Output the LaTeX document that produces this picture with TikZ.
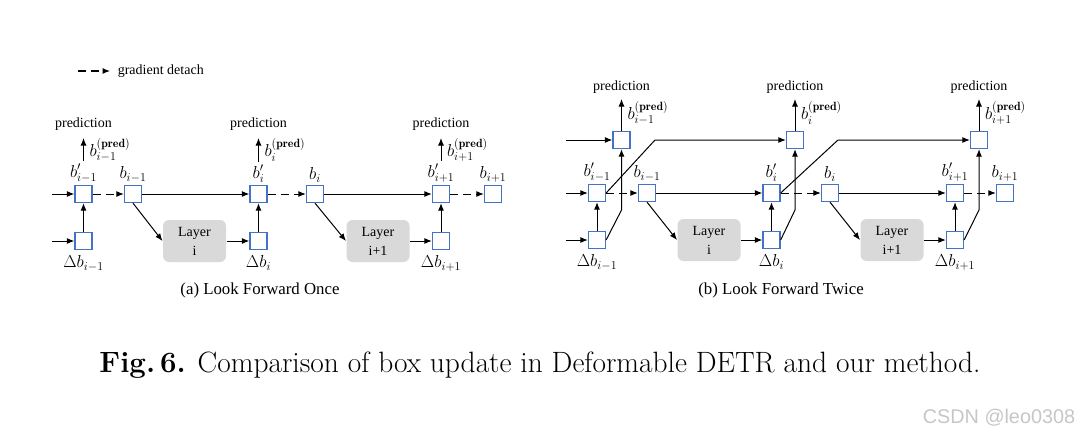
\documentclass[tikz,border=0pt]{standalone}
\usepackage{amsmath,amssymb}
\usepackage{fontspec}
\usetikzlibrary{arrows.meta}
\newfontfamily\tms{Liberation Serif}
\newfontfamily\wmk{Liberation Sans}
\definecolor{boxblue}{RGB}{68,114,196}
\definecolor{layergray}{RGB}{217,217,217}

\begin{document}
\begin{tikzpicture}[x=1pt, y=-1pt, every node/.style={font=\tms\fontsize{14}{19}\selectfont}, >={Latex[length=7.5pt,width=6pt]}, line width=1pt,
	box/.style={draw=boxblue, line width=1.3pt, fill=white, minimum size=17pt, inner sep=0pt},
	layer/.style={fill=layergray, rounded corners=6pt, minimum width=63pt, minimum height=42pt, align=center, inner sep=0pt},
	mth/.style={font=\fontsize{17}{20}\selectfont, inner sep=3pt},
	grad/.style={->, dash pattern=on 8pt off 5pt}]
	\useasboundingbox (0,0) rectangle (1081,436);
	% legend
	\coordinate (lgS) at (78,71);
	\coordinate (lgE) at (110,71);
	\node[anchor=west] (lgT) at (114,71) {gradient detach};
	\draw[grad] (lgS) -- (lgE);
	% (a) look forward once
	\coordinate (lin1) at (52,194);
	\coordinate (lin2) at (52,241);
	\node[box, label={[mth, name=lnA, label distance=-1pt]above:$b'_{i-1}$}] (lbpA) at (83.5,194) {};
	\node[box, label={[mth, label distance=-1pt]above:$b_{i-1}$}] (lbA) at (133,194) {};
	\node[box, label={[mth, name=lnB, label distance=-1pt]above:$b'_{i}$}] (lbpB) at (258.5,194) {};
	\node[box, label={[mth, label distance=-1pt]above:$b_{i}$}] (lbB) at (315,194) {};
	\node[box, label={[mth, name=lnC, label distance=-1pt]above:$b'_{i+1}$}] (lbpC) at (441,194) {};
	\node[box, label={[mth, label distance=-1pt]above:$b_{i+1}$}] (lbC) at (493,194) {};
	\node[box, label={[mth, label distance=2pt]below:$\Delta b_{i-1}$}] (ldA) at (83.5,241) {};
	\node[box, label={[mth, label distance=2pt]below:$\Delta b_{i}$}] (ldB) at (258.5,241) {};
	\node[box, label={[mth, label distance=2pt]below:$\Delta b_{i+1}$}] (ldC) at (441,241) {};
	\node[layer] (llayA) at (194.5,241) {Layer\\i};
	\node[layer] (llayB) at (378,241) {Layer\\i+1};
	\node (lprA) at (83.5,124) {prediction};
	\node (lprB) at (258.5,124) {prediction};
	\node (lprC) at (441,124) {prediction};
	\coordinate (lupA) at (83.5,138);
	\coordinate (lupB) at (258.5,138);
	\coordinate (lupC) at (441,138);
	\node[mth, anchor=west] at (86,150) {$b^{(\mathbf{pred})}_{i-1}$};
	\node[mth, anchor=west] at (261,150) {$b^{(\mathbf{pred})}_{i}$};
	\node[mth, anchor=west] at (443.5,150) {$b^{(\mathbf{pred})}_{i+1}$};
	\draw[->] (lin1) -- (lbpA);
	\draw[->] (lin2) -- (ldA);
	\draw[->] (ldA) -- (lbpA);
	\draw[->] (ldB) -- (lbpB);
	\draw[->] (ldC) -- (lbpC);
	\draw[->] (lnA) -- (lupA);
	\draw[->] (lnB) -- (lupB);
	\draw[->] (lnC) -- (lupC);
	\draw[grad] (lbpA) -- (lbA);
	\draw[grad] (lbpB) -- (lbB);
	\draw[grad] (lbpC) -- (lbC);
	\draw[->] (lbA) -- (lbpB);
	\draw[->] (lbB) -- (lbpC);
	\draw[->] (lbA.south) -- (llayA.west);
	\draw[->] (lbB.south) -- (llayB.west);
	\draw[->] (llayA) -- (ldB);
	\draw[->] (llayB) -- (ldC);
	\node[font=\tms\fontsize{16.8}{19}\selectfont] (capA) at (260,290) {(a) Look Forward Once};
	% (b) look forward twice
	\coordinate (rin0) at (566,140);
	\coordinate (rin1) at (566,193);
	\coordinate (rin2) at (566,240);
	\node[box] (rtA) at (621.5,140) {};
	\node[box] (rtB) at (795,140) {};
	\node[box] (rtC) at (979,140) {};
	\node[box, label={[mth, label distance=-1pt]above:$b'_{i-1}$}] (rbpA) at (597,193) {};
	\node[box, label={[mth, label distance=-1pt]above:$b_{i-1}$}] (rbA) at (647,193) {};
	\node[box, label={[mth, label distance=-1pt]above:$b'_{i}$}] (rbpB) at (771.5,193) {};
	\node[box, label={[mth, label distance=-1pt]above:$b_{i}$}] (rbB) at (830,193) {};
	\node[box, label={[mth, label distance=-1pt]above:$b'_{i+1}$}] (rbpC) at (955,193) {};
	\node[box, label={[mth, label distance=-1pt]above:$b_{i+1}$}] (rbC) at (1005,193) {};
	\node[box, label={[mth, label distance=2pt]below:$\Delta b_{i-1}$}] (rdA) at (597,240) {};
	\node[box, label={[mth, label distance=2pt]below:$\Delta b_{i}$}] (rdB) at (771.5,240) {};
	\node[box, label={[mth, label distance=2pt]below:$\Delta b_{i+1}$}] (rdC) at (955,240) {};
	\node[layer] (rlayA) at (709,240) {Layer\\i};
	\node[layer] (rlayB) at (892,240) {Layer\\i+1};
	\node (rprA) at (621.5,87) {prediction};
	\node (rprB) at (795,87) {prediction};
	\node (rprC) at (979,87) {prediction};
	\coordinate (rupA) at (621.5,99);
	\coordinate (rupB) at (795,99);
	\coordinate (rupC) at (979,99);
	\node[mth, anchor=west] at (624,113) {$b^{(\mathbf{pred})}_{i-1}$};
	\node[mth, anchor=west] at (797.5,113) {$b^{(\mathbf{pred})}_{i}$};
	\node[mth, anchor=west] at (981.5,113) {$b^{(\mathbf{pred})}_{i+1}$};
	\coordinate (rkA) at (621.5,210);
	\coordinate (rkB) at (795,210);
	\coordinate (rkC) at (979,210);
	\coordinate (rjA) at (655,140);
	\coordinate (rjB) at (838,140);
	\draw[->] (rin0) -- (rtA);
	\draw[->] (rin1) -- (rbpA);
	\draw[->] (rin2) -- (rdA);
	\draw[->] (rdA) -- (rbpA);
	\draw[->] (rdB) -- (rbpB);
	\draw[->] (rdC) -- (rbpC);
	\draw[->] (rdA.east) -- (rkA) -- (rtA.south);
	\draw[->] (rdB.east) -- (rkB) -- (rtB.south);
	\draw[->] (rdC.east) -- (rkC) -- (rtC.south);
	\draw[->] (rbpA.east) -- (rjA) -- (rtB.west);
	\draw[->] (rbpB.east) -- (rjB) -- (rtC.west);
	\draw[->] (rtA) -- (rupA);
	\draw[->] (rtB) -- (rupB);
	\draw[->] (rtC) -- (rupC);
	\draw[grad] (rbpA) -- (rbA);
	\draw[grad] (rbpB) -- (rbB);
	\draw[grad] (rbpC) -- (rbC);
	\draw[->] (rbA) -- (rbpB);
	\draw[->] (rbB) -- (rbpC);
	\draw[->] (rbA.south) -- (rlayA.west);
	\draw[->] (rbB.south) -- (rlayB.west);
	\draw[->] (rlayA) -- (rdB);
	\draw[->] (rlayB) -- (rdC);
	\node[font=\tms\fontsize{16.8}{19}\selectfont] (capB) at (781,290) {(b) Look Forward Twice};
	% figure caption and watermark
	\node[font=\fontsize{29.4}{34}\selectfont] (fig) at (540,365) {\textbf{Fig.\,6.} Comparison of box update in Deformable DETR and our method.};
	\node[font=\wmk\fontsize{19.8}{22}\selectfont, text=gray!45] (wm) at (999,418) {CSDN @leo0308};
\end{tikzpicture}
\end{document}
